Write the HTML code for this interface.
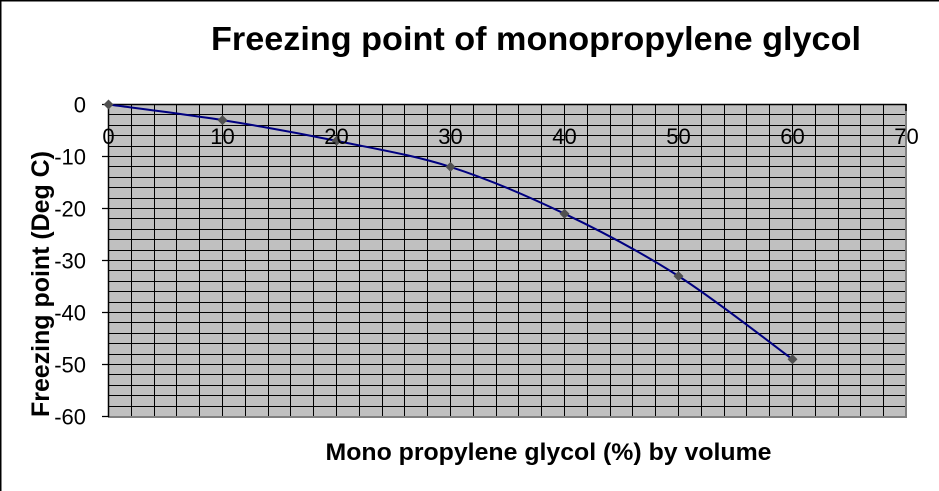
<!DOCTYPE html>
<html><head><meta charset="utf-8"><style>
html,body{margin:0;padding:0;background:#fff;}
svg{display:block;}
text{font-family:"Liberation Sans",Arial,sans-serif;fill:#000;}
</style></head><body>
<svg width="939" height="491" viewBox="0 0 939 491" xmlns="http://www.w3.org/2000/svg">
<rect x="0" y="0" width="939" height="491" fill="#fff"/>
<line x1="0" y1="0.75" x2="939" y2="0.75" stroke="#000" stroke-width="1.5"/>
<line x1="0.75" y1="0" x2="0.75" y2="491" stroke="#000" stroke-width="1.5"/>

<text x="536" y="50" font-size="33.5" font-weight="bold" text-anchor="middle" textLength="650" lengthAdjust="spacingAndGlyphs">Freezing point of monopropylene glycol</text>

<rect x="108.5" y="104.5" width="798" height="312" fill="#c0c0c0"/>
<g stroke="#000" stroke-width="1">
<path d="M131.5 104.5V416.5M154.5 104.5V416.5M176.5 104.5V416.5M199.5 104.5V416.5M222.5 104.5V416.5M245.5 104.5V416.5M268.5 104.5V416.5M290.5 104.5V416.5M313.5 104.5V416.5M336.5 104.5V416.5M359.5 104.5V416.5M382.5 104.5V416.5M404.5 104.5V416.5M427.5 104.5V416.5M450.5 104.5V416.5M473.5 104.5V416.5M496.5 104.5V416.5M518.5 104.5V416.5M541.5 104.5V416.5M564.5 104.5V416.5M587.5 104.5V416.5M610.5 104.5V416.5M632.5 104.5V416.5M655.5 104.5V416.5M678.5 104.5V416.5M701.5 104.5V416.5M724.5 104.5V416.5M746.5 104.5V416.5M769.5 104.5V416.5M792.5 104.5V416.5M815.5 104.5V416.5M838.5 104.5V416.5M860.5 104.5V416.5M883.5 104.5V416.5"/>
<path d="M108.5 114.5H906.5M108.5 125.5H906.5M108.5 135.5H906.5M108.5 146.5H906.5M108.5 156.5H906.5M108.5 166.5H906.5M108.5 177.5H906.5M108.5 187.5H906.5M108.5 198.5H906.5M108.5 208.5H906.5M108.5 218.5H906.5M108.5 229.5H906.5M108.5 239.5H906.5M108.5 250.5H906.5M108.5 260.5H906.5M108.5 270.5H906.5M108.5 281.5H906.5M108.5 291.5H906.5M108.5 302.5H906.5M108.5 312.5H906.5M108.5 322.5H906.5M108.5 333.5H906.5M108.5 343.5H906.5M108.5 354.5H906.5M108.5 364.5H906.5M108.5 374.5H906.5M108.5 385.5H906.5M108.5 395.5H906.5M108.5 406.5H906.5"/>
</g>
<line x1="906" y1="104" x2="906" y2="418" stroke="#808080" stroke-width="2"/>
<line x1="108" y1="417" x2="907" y2="417" stroke="#808080" stroke-width="2"/>
<line x1="108.5" y1="104.5" x2="906.5" y2="104.5" stroke="#000" stroke-width="1.5"/>
<line x1="108.5" y1="104" x2="108.5" y2="417" stroke="#000" stroke-width="1.5"/>
<line x1="906" y1="104" x2="906" y2="111" stroke="#000" stroke-width="1.5"/>
<g stroke="#000" stroke-width="1.2">
<path d="M102 104.5H108.5M102 156.5H108.5M102 208.5H108.5M102 260.5H108.5M102 312.5H108.5M102 364.5H108.5M102 416.5H108.5"/>
</g>

<path d="M108.5 104.5 C127.5 107.1 184.5 114.03 222.5 120.1 C260.5 126.17 298.5 133.1 336.5 140.9 C374.5 148.7 412.5 154.77 450.5 166.9 C488.5 179.03 526.5 195.5 564.5 213.7 C602.5 231.9 640.5 251.83 678.5 276.1 C716.5 300.37 773.5 345.43 792.5 359.3" fill="none" stroke="#000080" stroke-width="2"/>
<g fill="#505050">
<path d="M108.5 99.5l5 5-5 5-5-5z"/>
<path d="M222.5 115.1l5 5-5 5-5-5z"/>
<path d="M336.5 135.9l5 5-5 5-5-5z"/>
<path d="M450.5 161.9l5 5-5 5-5-5z"/>
<path d="M564.5 208.7l5 5-5 5-5-5z"/>
<path d="M678.5 271.1l5 5-5 5-5-5z"/>
<path d="M792.5 354.3l5 5-5 5-5-5z"/>
</g>

<g font-size="22" text-anchor="middle">
<text x="108.5" y="144">0</text>
<text x="222.5" y="144">10</text>
<text x="336.5" y="144">20</text>
<text x="450.5" y="144">30</text>
<text x="564.5" y="144">40</text>
<text x="678.5" y="144">50</text>
<text x="792.5" y="144">60</text>
<text x="906.5" y="144">70</text>
</g>
<g font-size="22" text-anchor="end">
<text x="86" y="112.5">0</text>
<text x="86" y="164.5">-10</text>
<text x="86" y="216.5">-20</text>
<text x="86" y="268.5">-30</text>
<text x="86" y="320.5">-40</text>
<text x="86" y="372.5">-50</text>
<text x="86" y="424.5">-60</text>
</g>

<text transform="translate(49,284) rotate(-90)" font-size="25" font-weight="bold" text-anchor="middle" textLength="266" lengthAdjust="spacingAndGlyphs">Freezing point (Deg C)</text>
<text x="548.5" y="460" font-size="24.5" font-weight="bold" text-anchor="middle" textLength="446" lengthAdjust="spacingAndGlyphs">Mono propylene glycol (%) by volume</text>
</svg>
</body></html>
